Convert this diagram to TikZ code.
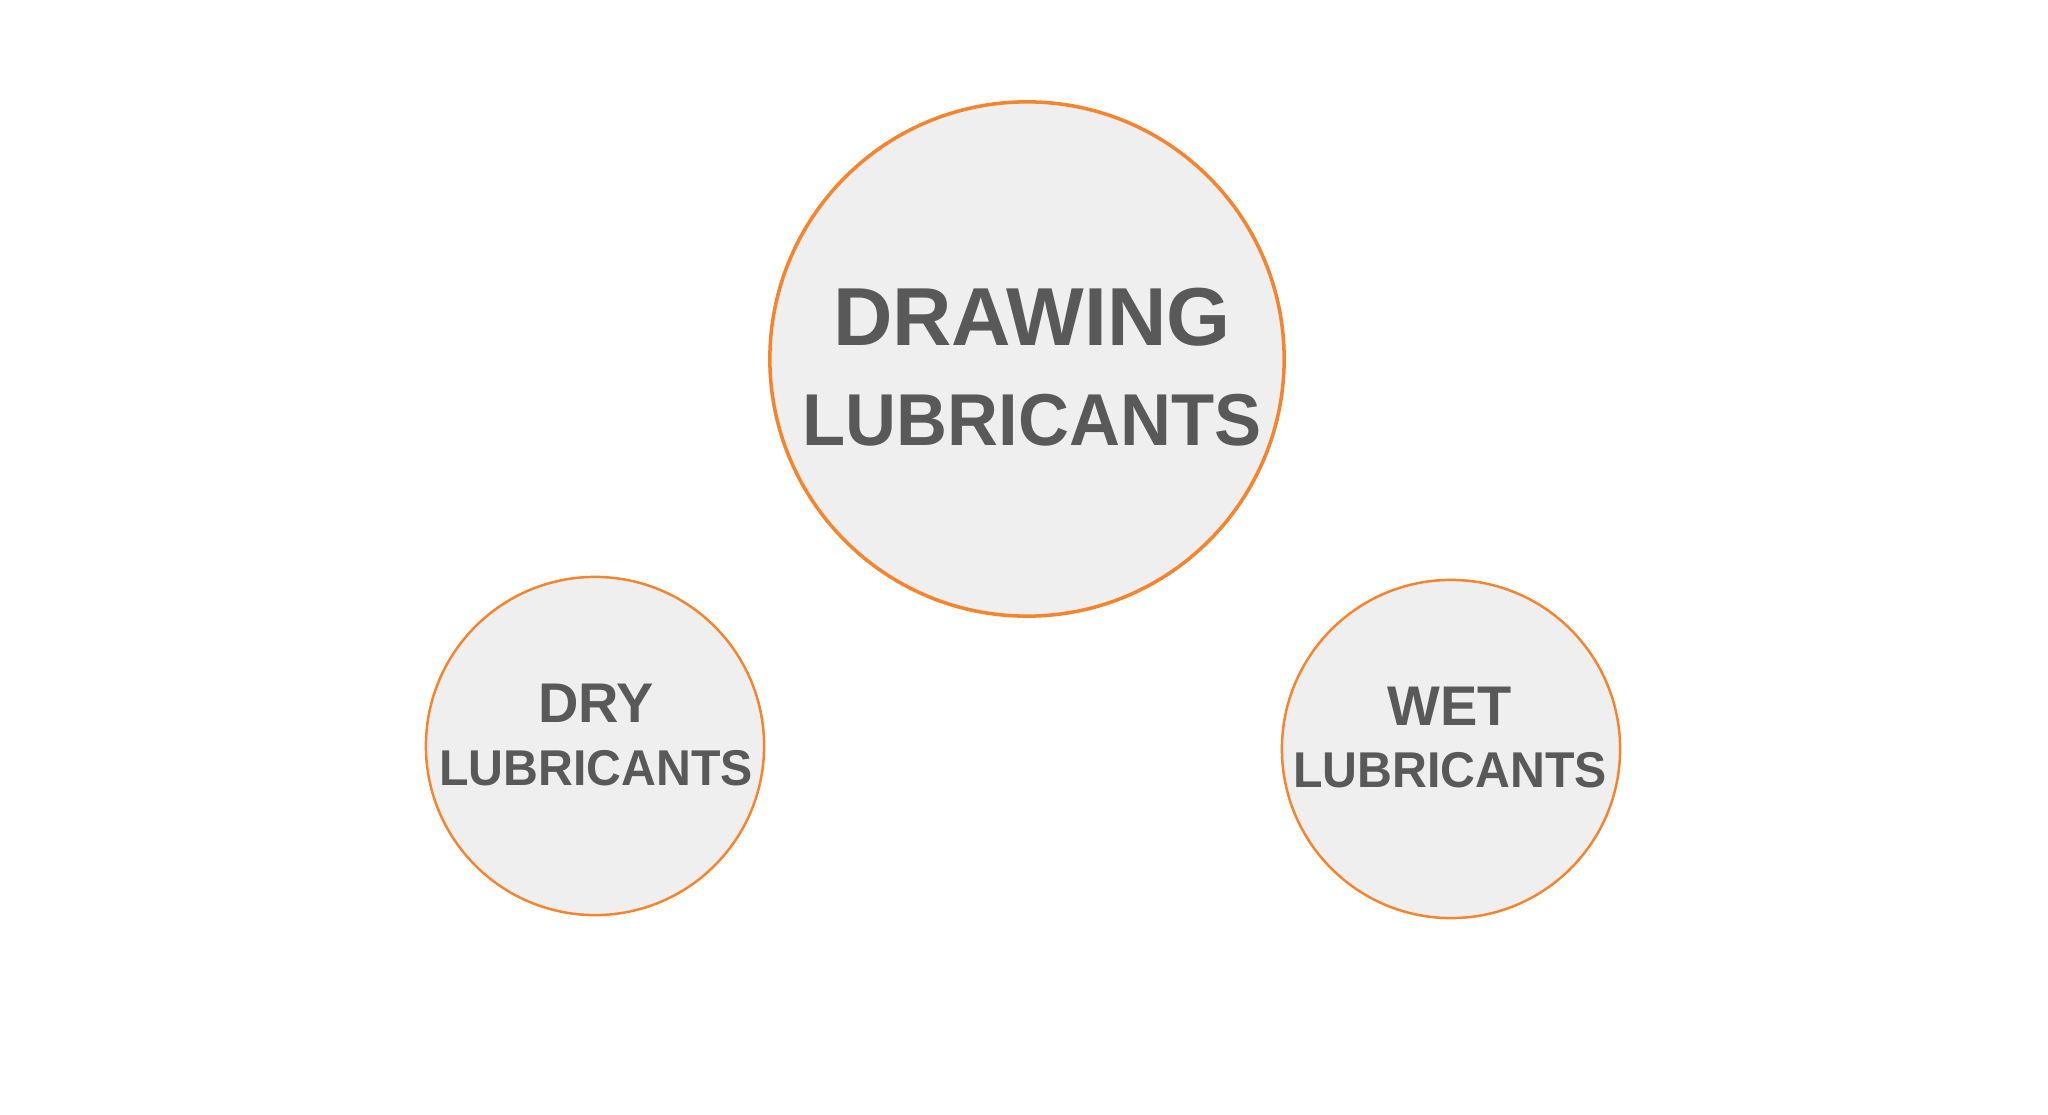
\documentclass[tikz,border=0pt]{standalone}
\usepackage{fontspec}
\setmainfont{Liberation Sans}
\newfontfamily\narrowsans{Liberation Sans}[FakeStretch=0.96]
\definecolor{lubeorange}{HTML}{F5842C}
\definecolor{lubegrey}{HTML}{595959}
\definecolor{lubefill}{HTML}{EFEFEF}
\begin{document}
\begin{tikzpicture}[x=0.01cm, y=-0.01cm,
  disc/.style={circle, draw=lubeorange, fill=lubefill, inner sep=0pt},
  bigdisc/.style={disc, line width=1pt, minimum size=5.14cm},
  smalldisc/.style={disc, line width=0.7pt, minimum size=3.38cm},
  caption/.style={align=center, inner sep=0pt, text=lubegrey}]
\useasboundingbox (0,0) rectangle (2048,1115);
\node[bigdisc] (DL) at (1027,359) {};
\node[smalldisc] (DRY) at (595,746) {};
\node[smalldisc] (WET) at (1451,749) {};
\node[caption, font=\narrowsans\bfseries\fontsize{20.9}{28.6}\selectfont] (DLtext) at (1032,367)
  {{\normalfont\bfseries\fontsize{23.4}{28.6}\selectfont DRAWING}\\LUBRICANTS};
\node[caption, font=\narrowsans\bfseries\fontsize{14.3}{17.8}\selectfont] (DRYtext) at (596,735)
  {{\normalfont\bfseries\fontsize{15.9}{17.8}\selectfont DRY}\\LUBRICANTS};
\node[caption, font=\narrowsans\bfseries\fontsize{14.3}{17.8}\selectfont] (WETtext) at (1450,737.5)
  {{\normalfont\bfseries\fontsize{15.9}{17.8}\selectfont WET}\\LUBRICANTS};
\end{tikzpicture}
\end{document}
